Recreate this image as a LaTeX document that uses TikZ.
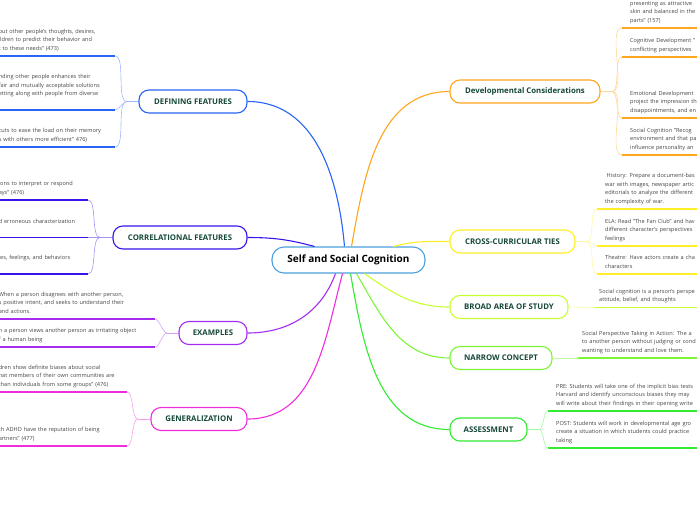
\documentclass[tikz,border=0pt]{standalone}
\usepackage{fontspec}
\setmainfont{Open Sans}
\definecolor{hdtext}{RGB}{22,72,58}
\definecolor{lftext}{RGB}{70,70,70}
\definecolor{central}{RGB}{74,160,222}
\definecolor{cdef}{RGB}{40,100,245}
\definecolor{ccorr}{RGB}{55,20,235}
\definecolor{cex}{RGB}{165,45,240}
\definecolor{cgen}{RGB}{240,45,220}
\definecolor{cdev}{RGB}{255,165,30}
\definecolor{ccross}{RGB}{255,238,40}
\definecolor{cbroad}{RGB}{200,255,50}
\definecolor{cnarrow}{RGB}{125,245,55}
\definecolor{cassess}{RGB}{50,235,50}
\tikzset{
  topic/.style={draw=#1, line width=1.1pt, fill=white, rounded corners=10pt,
    minimum height=23pt, inner sep=0pt, text=hdtext,
    font=\fontsize{7.8}{9}\selectfont\bfseries},
  leaf/.style={inner xsep=1pt, inner ysep=3pt, align=left, text=lftext,
    font=\fontsize{5.6}{8.5}\selectfont, execute at end node=\strut},
  leafl/.style={leaf, anchor=south east},
  leafr/.style={leaf, inner xsep=8pt, anchor=south west, text width=160pt},
  under/.style={draw=#1, line width=1.5pt},
  twig/.style={draw=#1!45!white, line width=0.6pt},
  branch/.style={draw=#1, line width=1.1pt}
}
\begin{document}
\begin{tikzpicture}[x=1pt,y=-1pt]
  \useasboundingbox (0,0) rectangle (697,520);
  \clip (0,0) rectangle (697,520);

  \node[draw=central, line width=1.1pt, fill=white, rounded corners=12pt,
    minimum width=153pt, minimum height=26pt, inner sep=0pt,
    font=\fontsize{10}{12}\selectfont\bfseries] (sc) at (348.5,260) {Self and Social Cognition};

  \node[topic=cdef, minimum width=108pt] (def) at (193,101.5) {DEFINING FEATURES};
  \node[topic=ccorr, minimum width=134pt] (corr) at (180,237.5) {CORRELATIONAL FEATURES};
  \node[topic=cex, minimum width=68pt] (ex) at (213,333) {EXAMPLES};
  \node[topic=cgen, minimum width=96pt] (gen) at (199,419) {GENERALIZATION};
  \node[topic=cdev, minimum width=150pt] (dev) at (525,91.5) {Developmental Considerations};
  \node[topic=ccross, minimum width=125pt] (cross) at (512.5,241.5) {CROSS-CURRICULAR TIES};
  \node[topic=cbroad, minimum width=118pt] (broad) at (509,307) {BROAD AREA OF STUDY};
  \node[topic=cnarrow, minimum width=102pt] (narrow) at (501,358) {NARROW CONCEPT};
  \node[topic=cassess, minimum width=77pt] (assess) at (488.5,429.5) {ASSESSMENT};

  \draw[branch=cdef] ([xshift=-4]sc.north) to[out=95,in=0] (def.east);
  \draw[branch=cdev] ([xshift=3]sc.north) to[out=80,in=180] (dev.west);
  \draw[branch=ccorr] ([xshift=-34]sc.north) to[out=165,in=0] (corr.east);
  \draw[branch=ccross] ([xshift=45]sc.north) to[out=15,in=180] (cross.west);
  \draw[branch=cex] ([xshift=-13]sc.south) to[out=-110,in=0] (ex.east);
  \draw[branch=cgen] ([xshift=-6]sc.south) to[out=-105,in=0] (gen.east);
  \draw[branch=cassess] ([xshift=2]sc.south) to[out=-80,in=180] (assess.west);
  \draw[branch=cnarrow] ([xshift=8]sc.south) to[out=-60,in=180] (narrow.west);
  \draw[branch=cbroad] ([xshift=16]sc.south) to[out=-35,in=180] (broad.west);

  % left side leaves
  \coordinate (defb) at (127,101.5);
  \node[leafl, text width=115pt] (dl1) at (115,56) {out other people's thoughts, desires,\\ildren to predict their behavior and\\t to these needs" (473)};
  \node[leafl, text width=115pt] (dl2) at (115,110) {nding other people enhances their\\fair and mutually acceptable solutions\\etting along with people from diverse\\~};
  \node[leafl, text width=115pt] (dl3) at (115,147) {cuts to ease the load on their memory\\s with others more efficient" 476)};
  \draw[twig=cdef] (def.west) -- (defb);
  \foreach \l in {dl1,dl2,dl3} {
    \draw[twig=cdef] (defb) to[out=180,in=0,looseness=0.6] (\l.south east);
    \draw[under=cdef] (\l.south west) -- (\l.south east);
  }

  \coordinate (corrb) at (100,237.5);
  \node[leafl, text width=88pt] (cl1) at (88,200) {ions to interpret or respond\\ays" (476)};
  \node[leafl, text width=88pt] (cl2) at (88,237.5) {d erroneous characterization\\~};
  \node[leafl, text width=88pt] (cl3) at (88,274) {ies, feelings, and behaviors\\~};
  \draw[twig=ccorr] (corr.west) -- (corrb);
  \foreach \l in {cl1,cl2,cl3} {
    \draw[twig=ccorr] (corrb) to[out=180,in=0,looseness=0.6] (\l.south east);
    \draw[under=ccorr] (\l.south west) -- (\l.south east);
  }

  \coordinate (exb) at (167,333);
  \node[leafl, text width=155pt] (el1) at (155,319) {When a person disagrees with another person,\\s positive intent, and seeks to understand their\\and actions.};
  \node[leafl, text width=155pt] (el2) at (155,347) {n a person views another person as irritating object\\f a human being};
  \draw[twig=cex] (ex.west) -- (exb);
  \foreach \l in {el1,el2} {
    \draw[twig=cex] (exb) to[out=180,in=0,looseness=0.6] (\l.south east);
    \draw[under=cex] (\l.south west) -- (\l.south east);
  }

  \coordinate (genb) at (138,419);
  \node[leafl, text width=127pt] (gl1) at (127,392) {dren show definite biases about social\\hat members of their own communities are\\than individuals from some groups" (476)};
  \node[leafl, text width=127pt] (gl2) at (127,446) {th ADHD have the reputation of being\\artners" (477)};
  \draw[twig=cgen] (gen.west) -- (genb);
  \foreach \l in {gl1,gl2} {
    \draw[twig=cgen] (genb) to[out=180,in=0,looseness=0.6] (\l.south east);
    \draw[under=cgen] (\l.south west) -- (\l.south east);
  }

  % right side leaves
  \coordinate (devb) at (612,91.5);
  \node[leafr] (vl1) at (622,28) {presenting as attractive\\skin and balanced in the\\parts" (157)};
  \node[leafr] (vl2) at (622,57) {Cognitive Development "\\conflicting perspectives};
  \node[leafr] (vl3) at (622,118) {Emotional Development\\project the impression th\\disappointments, and en};
  \node[leafr] (vl4) at (622,155) {Social Cognition "Recog\\environment and that pa\\influence personality an};
  \draw[twig=cdev] (dev.east) -- (devb);
  \foreach \l in {vl1,vl2,vl3,vl4} {
    \draw[twig=cdev] (devb) to[out=0,in=180,looseness=0.6] (\l.south west);
    \draw[under=cdev] (\l.south west) -- (\l.south east);
  }

  \coordinate (crossb) at (587,241.5);
  \node[leafr] (xl1) at (597,209) {\hspace*{1.5pt}History: Prepare a document-bas\\war with images, newspaper artic\\editorials to analyze the different\\the complexity of war.};
  \node[leafr] (xl2) at (597,246) {ELA: Read "The Fan Club" and hav\\different character's perspectives\\feelings};
  \node[leafr] (xl3) at (597,274) {Theatre: Have actors create a cha\\characters};
  \draw[twig=ccross] (cross.east) -- (crossb);
  \foreach \l in {xl1,xl2,xl3} {
    \draw[twig=ccross] (crossb) to[out=0,in=180,looseness=0.6] (\l.south west);
    \draw[under=ccross] (\l.south west) -- (\l.south east);
  }

  \node[leafr, inner xsep=4pt] (bl1) at (595,307.5) {Social cognition is a person's perspe\\attitude, belief, and thoughts};
  \draw[twig=cbroad] (broad.east) -- (bl1.south west);
  \draw[under=cbroad] (bl1.south west) -- (bl1.south east);

  \node[leafr, inner xsep=4pt] (nl1) at (578,358) {Social Perspective Taking in Action: The a\\to another person without judging or cond\\wanting to understand and love them.};
  \draw[twig=cnarrow] (narrow.east) -- (nl1.south west);
  \draw[under=cnarrow] (nl1.south west) -- (nl1.south east);

  \coordinate (assessb) at (539,429.5);
  \node[leafr] (al1) at (548,411) {PRE: Students will take one of the implicit bias tests\\Harvard and identify unconscious biases they may\\will write about their findings in their opening write};
  \node[leafr] (al2) at (548,448) {POST: Students will work in developmental age gro\\create a situation in which students could practice\\taking};
  \draw[twig=cassess] (assess.east) -- (assessb);
  \foreach \l in {al1,al2} {
    \draw[twig=cassess] (assessb) to[out=0,in=180,looseness=0.6] (\l.south west);
    \draw[under=cassess] (\l.south west) -- (\l.south east);
  }
\end{tikzpicture}
\end{document}
